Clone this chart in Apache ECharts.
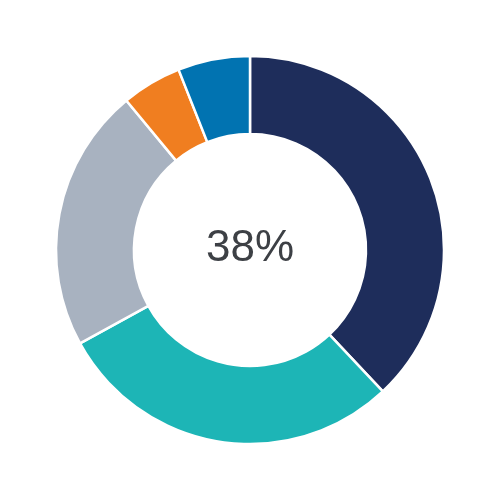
<!DOCTYPE html>
<html>
<head>
<meta charset="utf-8">
<script src="https://cdn.jsdelivr.net/npm/echarts@6/dist/echarts.min.js"></script>
<style>html,body{margin:0;padding:0;background:#fff}#c{width:500px;height:500px}</style>
</head>
<body>
<div id="c"></div>
<script>
var categories = ['A', 'B', 'C', 'D', 'E'];
var values = [38, 29, 22, 5, 6];
var colors = ['#1e2d5b', '#1db5b6', '#a8b2c0', '#f07e20', '#0173b1'];
var centerLabel = '38%';

var chart = echarts.init(document.getElementById('c'), null, {renderer: 'canvas'});
chart.setOption({
  animation: false,
  color: colors,
  graphic: [{
    type: 'text',
    left: 'center',
    top: 227,
    style: {
      text: centerLabel,
      font: '44px "Liberation Sans", Arial, sans-serif',
      fill: '#3d4045',
      textAlign: 'center'
    }
  }],
  series: [{
    type: 'pie',
    center: [250, 250],
    radius: [116, 194],
    startAngle: 90,
    clockwise: true,
    label: {show: false},
    labelLine: {show: false},
    itemStyle: {borderColor: '#fff', borderWidth: 2.5},
    emphasis: {disabled: true},
    data: categories.map(function (c, i) { return {name: c, value: values[i]}; })
  }]
});
</script>
</body>
</html>
